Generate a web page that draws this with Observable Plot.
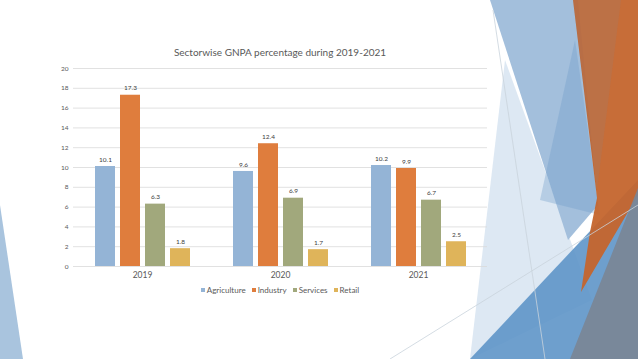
<!DOCTYPE html>
<html>
<head>
<meta charset="utf-8">
<script src="https://cdn.jsdelivr.net/npm/d3@7"></script>
<script src="https://cdn.jsdelivr.net/npm/@observablehq/plot@0.6"></script>
<style>
  html, body { margin: 0; padding: 0; background: #fff; }
  #stage { position: relative; width: 638px; height: 359px; overflow: hidden; background: #fff; font-family: Lato, "Open Sans", sans-serif; }
  #deco { position: absolute; left: 0; top: 0; }
  #title { position: absolute; left: 72px; width: 416px; top: 46px; text-align: center; font-size: 10px; color: #595959; }
  #chart { position: absolute; left: 0; top: 0; }
  #legend { position: absolute; left: 72px; width: 416px; top: 285px; text-align: center; font-size: 8px; color: #595959; }
  #legend span.item { margin: 0 3px; }
  #legend span.sw { display: inline-block; width: 4px; height: 4px; margin-right: 2px; vertical-align: 1px; }
</style>
</head>
<body>
<div id="stage">
  <svg id="deco" width="638" height="359">
    <polygon points="0,205 23,359 0,359" fill="#a9c4de"/>
    <polygon points="505,60 592,300 470,359" fill="#d7e4f1" opacity="0.85"/>
    <polygon points="490,0 578,0 598,205 568,240" fill="#a3bfdc"/>
    <polygon points="575,40 600,215 540,200" fill="#6e9bc8" opacity="0.35"/>
    <polygon points="470,359 638,180 638,359" fill="#5e95c8" opacity="0.9"/>
    <polygon points="573,0 638,0 638,195 581,292 590,232 597,198" fill="#c4652d" opacity="0.95"/>
    <polygon points="573,0 621,0 597,190" fill="#8f8080" opacity="0.2"/>
    <polygon points="638,188 570,359 638,359" fill="#7a8696" opacity="0.92"/>
    <line x1="390" y1="359" x2="638" y2="205" stroke="#c9d3dc" stroke-width="0.8"/>
    <line x1="493" y1="10" x2="545" y2="359" stroke="#c9d3dc" stroke-width="0.8"/>
  </svg>
  <div id="title">Sectorwise GNPA percentage during 2019-2021</div>
  <div id="chart"></div>
  <div id="legend"></div>
</div>
<script>
const years = ["2019", "2020", "2021"];
const sectors = ["Agriculture", "Industry", "Services", "Retail"];
const agriculture = [10.1, 9.6, 10.2];
const industry = [17.3, 12.4, 9.9];
const services = [6.3, 6.9, 6.7];
const retail = [1.8, 1.7, 2.5];
const yTicks = [0, 2, 4, 6, 8, 10, 12, 14, 16, 18, 20];
const colors = ["#94b4d6", "#df7d3d", "#a1a87c", "#dfb45a"];

const series = [agriculture, industry, services, retail];
const rows = [];
years.forEach((yr, i) => {
  sectors.forEach((s, j) => rows.push({year: yr, sector: s, value: series[j][i]}));
});

const chart = Plot.plot({
  width: 500,
  height: 290,
  marginLeft: 72,
  marginRight: 12,
  marginTop: 68,
  marginBottom: 24,
  style: {fontFamily: "Lato, 'Open Sans', sans-serif", background: "transparent", color: "#595959"},
  fx: {domain: years, padding: 0, label: null, axis: null},
  x: {domain: sectors, paddingInner: 0.21, paddingOuter: 0.845, axis: null},
  y: {domain: [0, 20], label: null, axis: null},
  color: {domain: sectors, range: colors},
  marks: [
    Plot.gridY(yTicks, {stroke: "#d9d9d9", strokeOpacity: 1, strokeWidth: 0.8}),
    Plot.axisY(yTicks, {tickSize: 0, tickPadding: 5, fontSize: 6.5, label: null, fill: "#595959"}),
    Plot.axisFx({anchor: "bottom", tickSize: 0, tickPadding: 5, fontSize: 8.5, fontWeight: "normal", label: null, fill: "#595959"}),
    Plot.barY(rows, {fx: "year", x: "sector", y: "value", fill: "sector"}),
    Plot.text(rows, {fx: "year", x: "sector", y: "value", text: d => d.value.toFixed(1), dy: -7, fontSize: 6.5, fill: "#404040"})
  ]
});
document.getElementById("chart").appendChild(chart);

const legend = document.getElementById("legend");
sectors.forEach((s, i) => {
  const item = document.createElement("span");
  item.className = "item";
  const sw = document.createElement("span");
  sw.className = "sw";
  sw.style.background = colors[i];
  item.appendChild(sw);
  item.appendChild(document.createTextNode(s));
  legend.appendChild(item);
});
</script>
</body>
</html>
